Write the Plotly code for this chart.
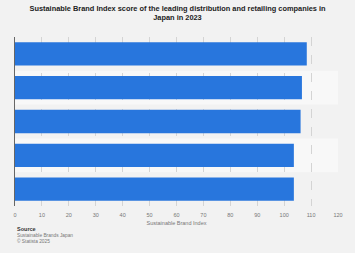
import plotly.graph_objects as go

categories = ["Company 1", "Company 2", "Company 3", "Company 4", "Company 5"]
values = [108.4, 106.6, 106.1, 103.6, 103.6]
x_ticks = [0, 10, 20, 30, 40, 50, 60, 70, 80, 90, 100, 110, 120]

fig = go.Figure()
fig.add_trace(go.Bar(
    x=values, y=categories, orientation="h",
    marker=dict(color="#2876dd", line=dict(width=0)),
    hoverinfo="x",
))

shapes = []
for i, c in enumerate(categories):
    if i % 2 == 1:
        shapes.append(dict(type="rect", xref="paper", yref="y", x0=0, x1=1,
                           y0=i - 0.5, y1=i + 0.5, fillcolor="#f8f8f8",
                           line=dict(width=0), layer="below"))

fig.update_layout(
    width=355, height=253,
    margin=dict(l=15, r=14, t=37, b=47),
    paper_bgcolor="#f2f2f2", plot_bgcolor="#f2f2f2",
    font=dict(family="Arial, Liberation Sans, sans-serif", size=5.5, color="#777777"),
    title=dict(
        text="<b>Sustainable Brand Index score of the leading distribution and retailing companies in<br>Japan in 2023</b>",
        x=0.5, xanchor="center", xref="container", yref="container",
        y=0.957, yanchor="top",
        font=dict(size=7.4, color="#222222"),
    ),
    bargap=0.31,
    shapes=shapes,
    showlegend=False,
    xaxis=dict(
        range=[0, 120], tickvals=x_ticks, ticktext=[str(t) for t in x_ticks],
        showgrid=True, gridcolor="#d4d4d4", griddash="dash", gridwidth=0.8,
        zeroline=False, showline=False, ticks="outside", ticklen=3, tickcolor="rgba(0,0,0,0)",
        title=dict(text="Sustainable Brand Index", font=dict(size=5.5, color="#777777"), standoff=4),
        tickfont=dict(size=5.5, color="#777777"),
    ),
    yaxis=dict(
        categoryorder="array", categoryarray=categories, autorange="reversed",
        showticklabels=False, showgrid=False, zeroline=False,
        showline=True, linecolor="#666666", linewidth=1, ticks="",
    ),
    annotations=[
        dict(text="<b>Source</b>", x=0, y=-0.135, xref="paper", yref="paper",
             xanchor="left", yanchor="middle", showarrow=False,
             font=dict(size=5.5, color="#333333")),
        dict(text="Sustainable Brands Japan<br>© Statista 2025", x=0, y=-0.195,
             xref="paper", yref="paper", xanchor="left", yanchor="middle",
             showarrow=False, align="left", font=dict(size=4.8, color="#777777")),
    ],
)

fig.write_html("out.html")
